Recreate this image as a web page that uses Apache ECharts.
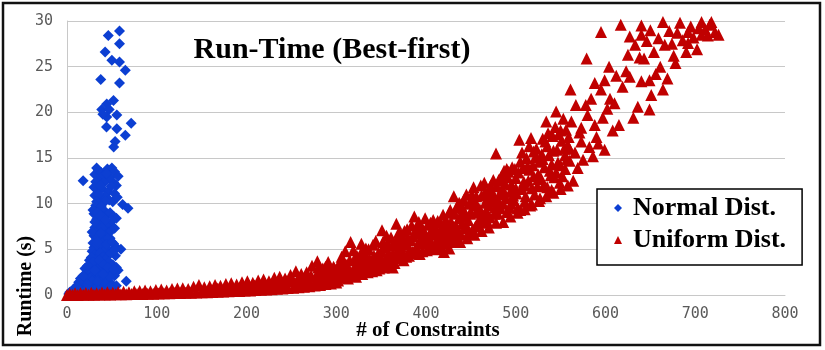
<!DOCTYPE html>
<html>
<head>
<meta charset="utf-8">
<script src="https://cdn.jsdelivr.net/npm/echarts@6.0.0/dist/echarts.min.js"></script>
<style>
  html, body { margin: 0; padding: 0; background: #fff; }
  #main { width: 825px; height: 350px; }
</style>
</head>
<body>
<div id="main"></div>
<script>
// axis ticks
const xMin = 0, xMax = 800, xStep = 100;
const yMin = 0, yMax = 30, yStep = 5;

// Normal Dist. (blue diamonds): [constraints, runtime s]
const normalPoints = [
  [58.5,28.9],[46,28.4],[58.5,27.5],[42.5,26.6],[50,25.7],[58.5,25.5],[65,24.6],[37.6,23.6],[58.5,23.2],
  [51.8,21.3],[44.3,20.9],[38.7,20.3],[44.3,19.5],[55.5,19.7],[71.5,18.8],[44,18.4],[55.5,18.2],[65,17.5],
  [53.6,16.8],[52,16.2],[47,20.3],[40,19.8],
  [33,13.9],[35,13.6],[31,13.2],[38,13.4],[36,12.8],[41,13.1],[45,13.8],[50,13.9],[53,13.5],[32,12.4],
  [40,12.2],[44,12.6],[52,12.3],[55,12.0],[30,11.8],[34,11.5],[39,11.7],[46,11.3],[49,11.9],[53,11.1],
  [31,10.9],[36,10.6],[42,10.8],[47,10.4],[51,10.2],[56,10.7],[18,12.5],[62,9.9],[68,9.5],
  [37,12.0],[43,10.3],[48,12.9],[35,11.0],[33,10.2],[57,13.0],[44,13.3],
  [32,9.8],[35,9.4],[38,9.7],[42,9.2],[45,8.8],[48,9.0],[52,8.6],[55,8.4],[30,8.9],[33,8.3],[36,8.0],
  [40,8.5],[44,7.9],[47,7.6],[50,8.1],[31,7.4],[34,7.1],[37,7.6],[41,7.0],[43,6.7],[46,6.9],[30,6.5],
  [33,6.2],[36,6.6],[39,6.0],[42,5.9],[48,6.2],[52,5.6],[55,5.2],[29,5.7],[32,5.3],[35,5.0],[38,5.4],
  [45,5.1],[50,4.7],[54,4.3],[60,5.0],
  [29,9.3],[31,8.0],[34,9.0],[37,8.7],[39,7.3],[43,8.2],[46,6.2],[49,7.0],[53,7.3],[28,6.9],[30,5.2],
  [34,5.8],[38,6.8],[41,4.8],[44,5.5],[47,4.4],[50,5.8],[53,4.9],
  [28,4.8],[31,4.4],[34,4.1],[37,4.6],[40,4.2],[43,3.9],[47,3.6],[51,3.3],[55,3.0],[25,3.8],[27,3.4],
  [30,3.1],[33,3.5],[36,3.0],[39,2.8],[44,2.6],[49,2.4],[53,2.1],[57,2.7],[20,2.9],[22,2.4],[24,2.0],
  [26,2.6],[29,2.2],[32,1.9],[35,2.3],[38,1.6],[42,1.8],[46,1.4],[50,1.2],[55,1.0],[66,1.5],[15,1.8],
  [17,1.3],[19,1.0],[21,1.6],[24,0.9],[27,1.2],[30,0.8],[33,1.0],[37,0.7],[41,0.9],[45,0.6],[12,1.1],
  [14,0.7],[10,0.6],[8,0.4],[6,0.3],[4,0.2],[2,0.1],[16,0.4],[20,0.5],[25,0.4],[52,0.5],
  [27,4.1],[29,3.6],[33,2.6],[36,3.8],[41,3.3],[45,3.0],[48,2.0],[52,2.8],[23,3.2],[26,1.8],[28,1.5],
  [31,2.7],[34,1.5],[40,2.3],[43,1.2],[48,0.9],[18,2.1],[22,1.2],[13,1.4],[11,0.9],[9,0.8],[7,0.6],
  [5,0.4],[3,0.3],[35,0.5],[40,0.4],[48,0.3]
];

// Uniform Dist. (red triangles): [constraints, runtime s]
const uniformPoints = [
  // low band, bottom edge
  [0,0.0],[6,0.02],[12,0.01],[18,0.03],[24,0.04],[30,0.03],[36,0.05],[42,0.06],[48,0.05],[54,0.08],
  [60,0.09],[66,0.08],[72,0.1],[78,0.12],[84,0.11],[90,0.14],[96,0.15],[102,0.16],[108,0.19],[114,0.2],
  [120,0.21],[126,0.23],[132,0.25],[138,0.26],[144,0.28],[150,0.3],[156,0.31],[162,0.34],[168,0.36],
  [174,0.37],[180,0.41],[186,0.43],[192,0.45],[198,0.48],[204,0.5],[210,0.54],[216,0.57],[222,0.6],
  [228,0.64],[234,0.68],[240,0.71],[246,0.76],[252,0.8],[258,0.86],[264,0.91],[270,0.97],[276,1.04],
  [282,1.1],[288,1.2],[294,1.27],[300,1.36],
  // low band, top edge
  [3,0.15],[9,0.2],[15,0.18],[21,0.22],[27,0.25],[33,0.2],[39,0.28],[45,0.3],[51,0.25],[57,0.32],
  [63,0.35],[69,0.3],[75,0.4],[81,0.45],[87,0.5],[93,0.42],[99,0.55],[105,0.6],[111,0.5],[117,0.65],
  [123,0.7],[129,0.75],[135,0.65],[141,0.9],[147,1.1],[153,0.85],[159,0.95],[165,1.1],[171,1.0],
  [177,1.2],[183,1.3],[189,1.15],[195,1.4],[201,1.5],[207,1.35],[213,1.6],[219,1.7],[225,1.5],
  [231,1.9],[237,2.0],[243,1.8],[249,2.2],[255,2.6],[261,2.3],[267,2.5],[273,3.2],[279,3.7],[285,2.9],
  [291,3.6],[297,3.1],
  // low band, middle
  [160,0.6],[168,0.7],[176,0.75],[184,0.85],[190,0.8],[196,0.95],[203,1.0],[209,1.05],[215,1.1],
  [221,1.2],[227,1.15],[233,1.35],[239,1.3],[245,1.5],[251,1.55],[257,1.7],[263,1.65],[268,1.9],
  [272,2.1],[277,2.0],[281,2.4],[286,2.2],[290,2.6],[295,2.4],[298,2.9],[255,1.25],[262,1.35],
  [270,1.45],[278,1.6],[284,1.7],[292,1.85],[297,2.0],[280,3.0],[288,3.1],[294,2.8],
  // 300 - 365
  [302,1.6],[304,2.8],[306,4.2],[309,2.1],[311,3.3],[313,1.8],[316,5.8],[318,2.6],[320,3.9],[322,2.0],
  [325,3.0],[327,4.5],[329,2.3],[331,3.6],[333,5.1],[335,2.5],[337,4.0],[339,2.9],[341,5.5],[343,3.3],
  [345,2.7],[347,4.6],[349,3.5],[351,7.1],[353,3.0],[355,5.2],[357,4.0],[359,3.2],[361,6.3],[363,4.5],
  [301,2.4],[303,3.4],[307,1.9],[310,4.8],[312,2.7],[315,3.8],[317,2.2],[319,4.9],[321,3.0],[324,2.4],
  [326,3.7],[328,5.6],[330,2.9],[332,4.2],[334,3.2],[336,5.0],[338,3.5],[340,2.6],[342,4.3],[344,5.9],
  [346,3.8],[348,2.9],[350,4.8],[352,5.8],[354,3.6],[356,6.5],[358,4.6],[360,3.4],[362,5.4],[364,4.1],
  [305,3.1],[308,3.6],[314,2.9],[323,4.3],[330,4.8],[337,3.0],[344,4.0],[350,3.9],[357,5.6],[363,3.0],
  // 365 - 435
  [365,3.5],[367,7.8],[369,5.0],[371,4.0],[373,6.6],[375,3.8],[377,5.5],[379,7.2],[381,4.3],[383,6.0],
  [385,4.7],[387,8.6],[389,5.2],[391,6.8],[393,4.5],[395,7.5],[397,5.8],[399,8.4],[401,4.9],[403,6.3],
  [405,7.9],[407,5.3],[409,6.9],[411,5.0],[413,8.1],[415,6.1],[417,7.3],[419,8.8],[421,5.6],[423,7.0],
  [425,6.4],[427,9.3],[429,5.9],[431,10.8],[433,7.6],[435,6.2],
  [366,5.8],[368,4.4],[370,6.9],[372,5.3],[374,4.6],[376,7.0],[378,4.2],[380,6.2],[382,5.0],[384,7.6],
  [386,6.4],[388,4.9],[390,7.4],[392,5.7],[394,6.1],[396,4.8],[398,6.9],[400,5.6],[402,7.7],[404,5.1],
  [406,6.6],[408,8.2],[410,7.0],[412,6.0],[414,5.5],[416,7.9],[418,6.5],[420,5.9],[422,8.2],[424,7.4],
  [426,5.8],[428,8.0],[430,6.8],[432,8.9],[434,9.6],
  [367,6.0],[372,6.1],[378,5.6],[383,4.6],[388,6.9],[392,8.0],[397,6.5],[402,5.8],[407,7.3],[412,7.0],
  [417,5.2],[421,7.8],[426,9.0],[430,7.5],[420,4.7],[426,5.1],
  // 435 - 500
  [437,8.4],[439,6.6],[441,9.5],[443,7.3],[445,11.0],[447,6.8],[449,8.9],[451,10.3],[453,11.8],[455,7.5],
  [457,9.8],[459,8.2],[461,12.0],[463,7.9],[465,12.3],[467,9.2],[469,10.7],[471,8.5],[473,11.4],[475,12.6],
  [477,9.6],[478,15.5],[480,8.9],[482,11.0],[484,13.0],[486,10.0],[488,12.2],[490,9.1],[492,13.5],
  [494,11.3],[496,14.0],[498,10.4],[500,12.8],
  [436,7.0],[438,9.9],[440,7.8],[442,10.4],[444,8.6],[446,7.4],[448,10.0],[450,9.1],[452,7.2],[454,9.9],
  [456,10.8],[458,7.8],[460,9.4],[462,10.9],[464,8.6],[466,11.2],[468,8.1],[470,9.8],[472,12.0],
  [474,10.3],[476,8.9],[479,11.9],[481,10.2],[483,9.5],[485,11.7],[487,13.6],[489,10.6],[491,12.9],
  [493,9.6],[495,12.1],[497,10.9],[499,13.8],
  [437,10.1],[442,9.0],[447,8.2],[451,11.0],[456,9.0],[461,8.4],[466,10.1],[471,11.3],[476,10.8],
  [481,12.6],[486,11.3],[490,13.8],[495,10.0],
  [438,5.8],[446,6.2],[454,6.6],[462,7.0],[470,7.4],[478,7.9],[486,8.0],[494,8.6],
  // 500 - 562
  [502,9.5],[504,17.0],[506,11.6],[508,13.9],[510,10.2],[512,15.0],[514,12.5],[516,9.8],[517,17.2],
  [519,14.2],[521,11.0],[523,16.0],[525,13.2],[527,10.6],[529,15.4],[531,12.0],[533,16.8],[534,19.0],
  [536,17.7],[538,13.6],[540,11.5],[542,15.8],[544,18.4],[545,20.1],[547,14.5],[549,12.3],[551,16.9],
  [553,19.3],[555,13.8],[556,18.1],[558,16.4],[560,14.7],[561,22.5],[562,19.0],
  [501,11.1],[503,13.4],[505,9.3],[507,15.6],[509,12.4],[511,10.8],[513,14.1],[515,16.3],[518,11.7],
  [520,13.0],[522,15.1],[524,11.9],[526,14.6],[528,12.8],[530,17.1],[532,14.0],[535,11.8],[537,15.3],
  [539,13.1],[541,17.4],[543,12.9],[546,15.9],[548,17.6],[550,14.2],[552,13.0],[554,16.0],[557,14.9],
  [559,17.3],
  [500,11.7],[505,14.6],[510,12.0],[515,13.7],[520,15.7],[525,12.7],[530,14.9],[535,16.3],[540,14.3],
  [545,13.4],[550,18.0],[555,15.3],[560,16.0],
  [502,9.0],[510,9.4],[518,9.9],[526,10.3],[534,10.8],[542,11.2],[550,11.6],[558,12.0],
  // 560 - 620
  [564,12.5],[566,15.6],[567,20.8],[569,13.9],[571,17.8],[573,18.3],[573,16.8],[575,14.8],[578,20.8],
  [579,25.9],[580,19.7],[582,16.2],[584,21.5],[586,15.2],[588,23.2],[588,18.6],[590,17.3],[592,16.6],
  [595,22.5],[595,28.8],[597,19.4],[599,23.5],[599,15.9],[602,20.4],[604,25.0],[605,21.5],[608,18.0],
  [610,21.0],[612,24.0],[615,18.6],[617,29.6],[619,22.8],
  // 620 - 730
  [623,24.5],[625,26.3],[627,28.3],[627,23.9],[631,19.4],[633,27.4],[636,20.6],[638,26.0],[640,29.5],
  [640,28.5],[640,23.4],[643,25.9],[646,27.8],[649,23.5],[649,20.3],[650,29.0],[651,21.9],[654,26.6],
  [656,24.2],[659,28.1],[661,25.0],[664,29.9],[664,22.5],[666,27.4],[669,23.7],[671,28.9],[674,27.5],
  [676,26.2],[678,25.4],[680,28.7],[683,29.8],[686,27.9],[690,26.6],[692,28.8],[692,27.6],[695,29.4],
  [698,28.2],[702,26.9],[704,29.2],[707,29.9],[707,28.5],[711,29.1],[714,28.4],[716,29.6],[718,29.9],
  [722,28.8],[726,28.5]
];

const chart = echarts.init(document.getElementById('main'));

const serif = '"Liberation Serif", "Times New Roman", serif';
const mono = '"DejaVu Sans Mono", monospace';

chart.setOption({
  backgroundColor: '#fff',
  animation: false,
  grid: { left: 67, right: 40, top: 21, bottom: 55, containLabel: false },
  xAxis: {
    type: 'value',
    min: xMin, max: xMax, interval: xStep,
    axisLine: { show: true, lineStyle: { color: '#c8c8c8', width: 1 } },
    axisTick: { show: false },
    splitLine: { show: false },
    axisLabel: { color: '#5a5a5a', fontFamily: mono, fontSize: 15, margin: 12 }
  },
  yAxis: {
    type: 'value',
    min: yMin, max: yMax, interval: yStep,
    axisLine: { show: true, lineStyle: { color: '#c8c8c8', width: 1 } },
    axisTick: { show: false },
    splitLine: { show: true, lineStyle: { color: '#c8c8c8', width: 1 } },
    axisLabel: { color: '#5a5a5a', fontFamily: mono, fontSize: 15, margin: 14 }
  },
  legend: {
    orient: 'vertical',
    left: 597, top: 189,
    padding: [4, 16, 10, 17],
    itemWidth: 8, itemHeight: 8, itemGap: 2,
    borderColor: '#000', borderWidth: 1.5,
    backgroundColor: '#fff',
    textStyle: {
      fontFamily: serif, fontWeight: 'bold', fontSize: 26,
      color: '#000', lineHeight: 30, padding: [0, 0, 0, 6]
    },
    data: [
      { name: 'Normal Dist.', icon: 'diamond' },
      { name: 'Uniform Dist.', icon: 'triangle' }
    ]
  },
  graphic: [
    {
      type: 'text', x: 332, y: 50,
      style: { text: 'Run-Time (Best-first)', font: 'bold 30px ' + serif, fill: '#000', align: 'center', verticalAlign: 'middle' }
    },
    {
      type: 'text', x: 428, y: 331,
      style: { text: '# of Constraints', font: 'bold 21px ' + serif, fill: '#000', align: 'center', verticalAlign: 'middle' }
    },
    {
      type: 'text', x: 26, y: 286, rotation: Math.PI / 2,
      style: { text: 'Runtime (s)', font: 'bold 20px ' + serif, fill: '#000', align: 'center', verticalAlign: 'middle' }
    },
    {
      type: 'rect', z: 100,
      shape: { x: 3, y: 3, width: 817, height: 342 },
      style: { fill: 'none', stroke: '#111', lineWidth: 2.5 }
    }
  ],
  series: [
    {
      name: 'Normal Dist.', type: 'scatter', symbol: 'diamond', symbolSize: 11,
      itemStyle: { color: '#0c3fd2', opacity: 1 },
      data: normalPoints
    },
    {
      name: 'Uniform Dist.', type: 'scatter', symbol: 'triangle', symbolSize: 12,
      itemStyle: { color: '#c00000', opacity: 1 },
      data: uniformPoints
    }
  ]
});
</script>
</body>
</html>
